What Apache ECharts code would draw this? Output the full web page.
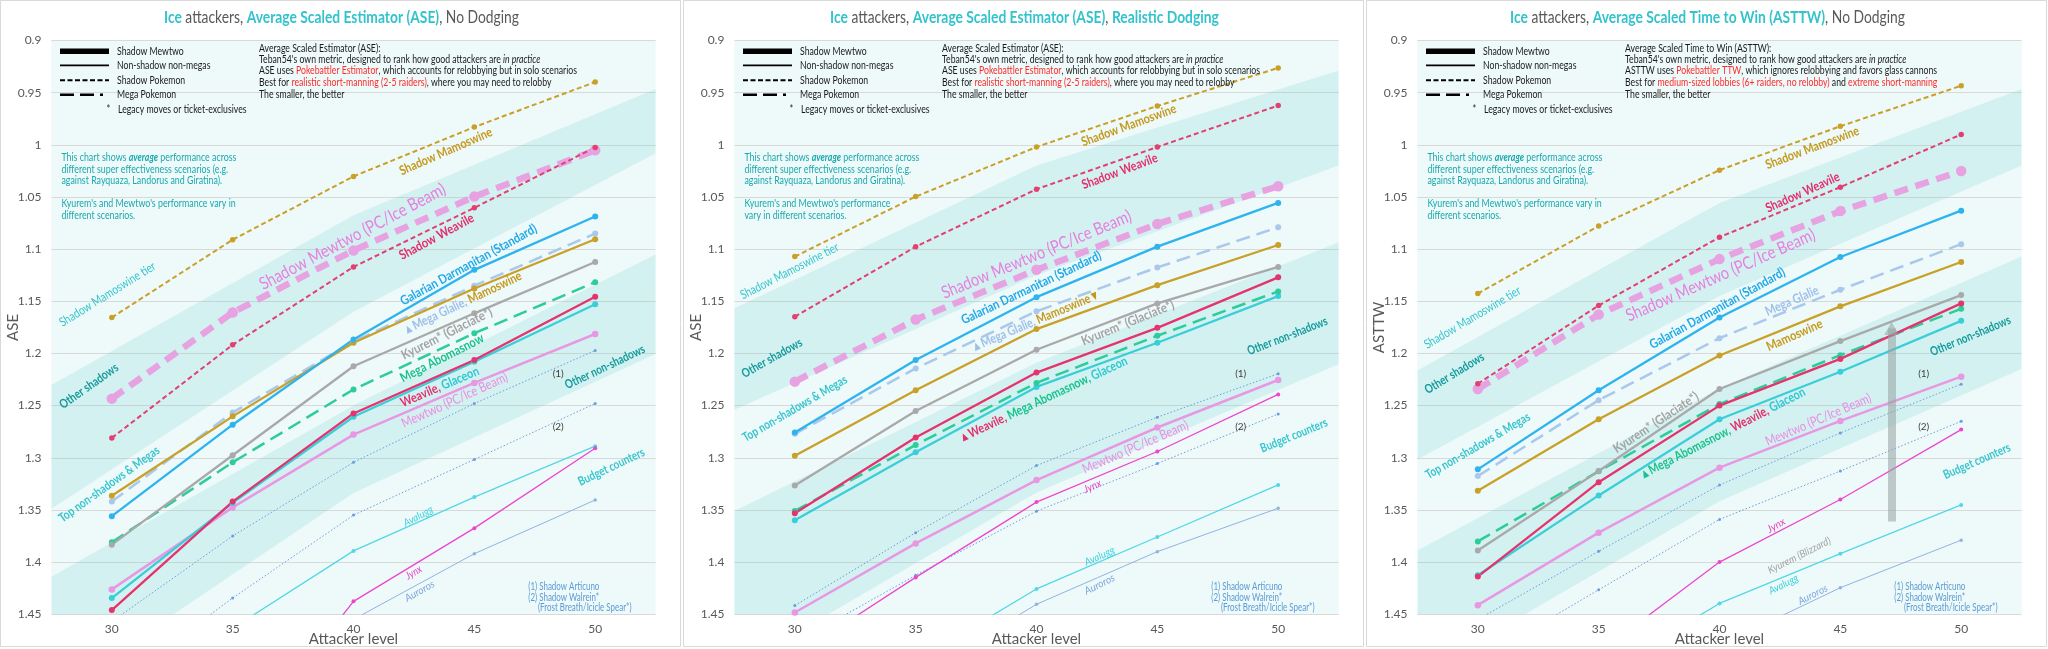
<!DOCTYPE html>
<html>
<head>
<meta charset="utf-8">
<script src="https://cdn.jsdelivr.net/npm/echarts@6/dist/echarts.min.js"></script>
<style>
    html, body { margin: 0; padding: 0; background: #fff; }
    #main { width: 2048px; height: 649px; }
</style>
</head>
<body>
<div id="main"></div>
<script>
// attacker levels on the x axis
const levels = [30, 35, 40, 45, 50]

// one row per chart: [ASE no dodging, ASE realistic dodging, ASTTW no dodging]
const shadowMamoswine = [
    [1.1655, 1.0909, 1.0302, 0.9829, 0.9397],
    [1.1071, 1.0496, 1.002, 0.9627, 0.9262],
    [1.1425, 1.0778, 1.0242, 0.9821, 0.9433]
]
const shadowWeavile = [
    [1.281, 1.1917, 1.117, 1.0603, 1.0024],
    [1.1647, 1.0976, 1.0425, 1.002, 0.9623],
    [1.229, 1.154, 1.0885, 1.0405, 0.99]
]
const shadowMewtwo = [
    [1.2433, 1.1607, 1.1012, 1.0496, 1.0052],
    [1.227, 1.1675, 1.1198, 1.0758, 1.0397],
    [1.2341, 1.1627, 1.1095, 1.0635, 1.025]
]
const galarianDarmanitan = [
    [1.356, 1.2683, 1.1865, 1.1198, 1.0687],
    [1.2758, 1.2063, 1.146, 1.0976, 1.0556],
    [1.3111, 1.2353, 1.1655, 1.1075, 1.0631]
]
const megaGlalie = [
    [1.342, 1.2567, 1.1885, 1.135, 1.085],
    [1.277, 1.2143, 1.1595, 1.1175, 1.079],
    [1.3175, 1.2448, 1.1853, 1.1389, 1.0952]
]
const mamoswine = [
    [1.3365, 1.2603, 1.1897, 1.1377, 1.0905],
    [1.298, 1.2353, 1.1766, 1.1345, 1.096],
    [1.3317, 1.2631, 1.202, 1.1548, 1.1123]
]
const kyurem = [
    [1.3833, 1.2976, 1.2123, 1.1615, 1.1123],
    [1.3266, 1.2552, 1.1964, 1.152, 1.117],
    [1.3889, 1.3127, 1.2341, 1.1881, 1.144]
]
const megaAbomasnow = [
    [1.381, 1.3044, 1.2345, 1.1806, 1.1317],
    [1.351, 1.2877, 1.2282, 1.183, 1.1405],
    [1.3802, 1.313, 1.2485, 1.2016, 1.1571]
]
const weavile = [
    [1.446, 1.342, 1.2575, 1.2063, 1.1456],
    [1.3532, 1.2806, 1.2183, 1.1754, 1.127],
    [1.4139, 1.3234, 1.25, 1.2052, 1.152]
]
const glaceon = [
    [1.4345, 1.3433, 1.2607, 1.2079, 1.1528],
    [1.36, 1.2948, 1.2321, 1.1897, 1.145],
    [1.4127, 1.3361, 1.2631, 1.2175, 1.1687]
]
const mewtwo = [
    [1.4262, 1.3476, 1.2778, 1.2282, 1.1813],
    [1.4484, 1.3821, 1.3214, 1.271, 1.2254],
    [1.4413, 1.3718, 1.3095, 1.2647, 1.2222]
]
const shadowArticuno = [
    [1.457, 1.375, 1.3044, 1.248, 1.1972],
    [1.4417, 1.3718, 1.3075, 1.2611, 1.2194],
    [1.455, 1.3897, 1.3262, 1.2762, 1.2294]
]
const shadowWalrein = [
    [1.52, 1.4345, 1.355, 1.3016, 1.248],
    [1.4776, 1.4127, 1.3512, 1.3056, 1.258],
    [1.4946, 1.4266, 1.3591, 1.3127, 1.265]
]
const jynx = [
    [null, 1.585, 1.4377, 1.3675, 1.2909],
    [1.49, 1.4147, 1.3425, 1.294, 1.2393],
    [null, 1.487, 1.4, 1.34, 1.273]
]
const avalugg = [
    [null, 1.4635, 1.3893, 1.3377, 1.2889],
    [null, 1.495, 1.4258, 1.376, 1.326],
    [null, 1.509, 1.4397, 1.392, 1.3452]
]
const auroros = [
    [null, null, 1.455, 1.392, 1.3405],
    [null, 1.51, 1.4405, 1.39, 1.3484],
    [null, null, 1.48, 1.4246, 1.379]
]

// tier band edges (left edge, middle, right edge of the plot)
const bandX = [27.5, 40, 52.5]
const tiersAseNoDodge = [[1.2302, 1.0675, 0.9464], [1.349, 1.16, 1.008], [1.414, 1.25, 1.105], [1.529, 1.3337, 1.2004]]
const tiersAseDodge = [[1.1567, 1.0198, 0.9286], [1.254, 1.125, 1.0198], [1.351, 1.209, 1.0933], [1.5027, 1.3333, 1.2103]]
const tiersAsttw = [[1.2163, 1.0556, 0.9464], [1.3016, 1.145, 1.0198], [1.3889, 1.2335, 1.1071], [1.51, 1.3417, 1.215]]

// gray arrow in the ASTTW chart: level, from, to
const asttwArrow = [47.12, 1.361, 1.176]

const F = 'Lato, sans-serif'
const origins = [0, 683, 1366]
const LIGHT = '#eef9f9'
const DARK = 'rgba(40,190,195,0.13)'

const lineStyles = {
    shadowMewtwo: { color: '#e6a2e1', width: 6.5, dash: [14, 8], size: 10.5 },
    shadowArticuno: { color: '#6b9edc', width: 1, dash: [1.5, 2], size: 3 },
    shadowWalrein: { color: '#6b9edc', width: 1, dash: [1.5, 2], size: 3 },
    auroros: { color: '#8fb3e3', width: 1, dash: 'solid', size: 3.5 },
    avalugg: { color: '#52d8e5', width: 1.3, dash: 'solid', size: 4 },
    jynx: { color: '#ee45cd', width: 1.3, dash: 'solid', size: 4 },
    mewtwo: { color: '#e898e3', width: 2.5, dash: 'solid', size: 6.5 },
    glaceon: { color: '#3acfd8', width: 2.3, dash: 'solid', size: 6 },
    megaAbomasnow: { color: '#2ccd9b', width: 2.5, dash: [14, 7], size: 6 },
    kyurem: { color: '#a9a9a9', width: 2.3, dash: 'solid', size: 6 },
    megaGlalie: { color: '#aac7ec', width: 2.5, dash: [14, 7], size: 6 },
    mamoswine: { color: '#c9a028', width: 2.3, dash: 'solid', size: 6 },
    galarianDarmanitan: { color: '#2db3ee', width: 2.3, dash: 'solid', size: 6 },
    weavile: { color: '#e5336d', width: 2.3, dash: 'solid', size: 6 },
    shadowWeavile: { color: '#e23f73', width: 2, dash: [5, 3], size: 5.5 },
    shadowMamoswine: { color: '#c9a028', width: 2, dash: [5, 3], size: 5.5 }
}
const seriesList = [
    ['shadowMewtwo', shadowMewtwo], ['shadowArticuno', shadowArticuno], ['shadowWalrein', shadowWalrein],
    ['auroros', auroros], ['avalugg', avalugg], ['jynx', jynx], ['mewtwo', mewtwo], ['glaceon', glaceon],
    ['megaAbomasnow', megaAbomasnow], ['kyurem', kyurem], ['megaGlalie', megaGlalie], ['mamoswine', mamoswine],
    ['galarianDarmanitan', galarianDarmanitan], ['weavile', weavile], ['shadowWeavile', shadowWeavile],
    ['shadowMamoswine', shadowMamoswine]
]

// annotations: text, level, value, angle, length in px on the original
const labelsP1 = [
    ['{gold|Shadow Mamoswine}', 43.82, 1.0063, 23.7, 100],
    ['{smew|Shadow Mewtwo (PC/Ice Beam)}', 39.96, 1.088, 27.9, 208],
    ['{crim|Shadow Weavile}', 43.44, 1.088, 28.3, 83],
    ['{blue|Galarian Darmanitan (Standard)}', 44.76, 1.115, 28.9, 154],
    ['{glal|▲Mega Glalie, }{gold|Mamoswine}', 44.5, 1.1516, 25.4, 130],
    ['{gray|Kyurem* (Glaciate*)}', 43.86, 1.181, 26.6, 100],
    ['{abom|Mega Abomasnow}', 43.66, 1.2044, 26.8, 92],
    ['{crim|Weavile, }{cyan|Glaceon}', 43.57, 1.232, 23.1, 84],
    ['{mew|Mewtwo (PC/Ice Beam)}', 44.18, 1.2448, 24.5, 115],
    ['{tiny|(1)}', 48.47, 1.219, 0, 0],
    ['{tiny|(2)}', 48.47, 1.2706, 0, 0],
    ['{teal|Other non-shadows}', 50.4, 1.213, 25.4, 87],
    ['{tierB|Budget counters}', 50.67, 1.3087, 25.4, 72],
    ['{aval|Avalugg}', 42.68, 1.356, 28.4, 32],
    ['{jynx|Jynx}', 42.49, 1.41, 30, 17],
    ['{aur|Auroros}', 42.74, 1.4278, 29.6, 32.5],
    ['{tier|Shadow Mamoswine tier}', 29.82, 1.1433, 31.9, 111],
    ['{teal|Other shadows}', 29.05, 1.2313, 35.3, 69],
    ['{tierB|Top non-shadows & Megas}', 29.89, 1.3254, 35.7, 121]
]
const labelsP2 = [
    ['{gold|Shadow Mamoswine}', 43.82, 0.9813, 20.2, 100],
    ['{crim|Shadow Weavile}', 43.44, 1.0254, 20.6, 80],
    ['{smew|Shadow Mewtwo (PC/Ice Beam)}', 40.0, 1.1052, 22.6, 204],
    ['{blue|Galarian Darmanitan (Standard)}', 39.78, 1.137, 25.5, 153.5],
    ['{glal|▲Mega Glalie, }{gold|Mamoswine▼}', 39.96, 1.1687, 22.9, 138.5],
    ['{gray|Kyurem* (Glaciate*)}', 43.78, 1.1706, 22.2, 99],
    ['{crim|▲Weavile, }{abom|Mega Abomasnow, }{cyan|Glaceon}', 40.27, 1.244, 25.2, 184.6],
    ['{mew|Mewtwo (PC/Ice Beam)}', 44.09, 1.2897, 23.5, 114],
    ['{jynx|Jynx}', 42.31, 1.3274, 25, 18.5],
    ['{tiny|(1)}', 48.45, 1.219, 0, 0],
    ['{tiny|(2)}', 48.45, 1.2706, 0, 0],
    ['{teal|Other non-shadows}', 50.38, 1.1833, 21.4, 85],
    ['{tierB|Budget counters}', 50.65, 1.2786, 22.1, 71.5],
    ['{aval|Avalugg}', 42.61, 1.3944, 25, 32],
    ['{aur|Auroros}', 42.61, 1.4214, 27, 32.6],
    ['{tier|Shadow Mamoswine tier}', 29.78, 1.121, 27.2, 108.7],
    ['{teal|Other shadows}', 29.05, 1.2044, 29.4, 67.5],
    ['{tierB|Top non-shadows & Megas}', 30.0, 1.2528, 30.3, 119]
]
const labelsP3 = [
    ['{gold|Shadow Mamoswine}', 43.84, 1.0028, 20.8, 99],
    ['{crim|Shadow Weavile}', 43.44, 1.0456, 24.3, 80],
    ['{smew|Shadow Mewtwo (PC/Ice Beam)}', 40.04, 1.125, 23.8, 205],
    ['{blue|Galarian Darmanitan (Standard)}', 39.91, 1.1567, 29.1, 153],
    ['{glal|Mega Glalie}', 43.0, 1.1496, 23.5, 57],
    ['{gold|Mamoswine}', 43.1, 1.1825, 24, 60],
    ['{gray|Kyurem* (Glaciate*)}', 37.37, 1.2663, 33.6, 99.4],
    ['{abom|▲Mega Abomasnow, }{crim|Weavile, }{cyan|Glaceon}', 40.11, 1.2766, 27.3, 185],
    ['{mew|Mewtwo (PC/Ice Beam)}', 44.09, 1.2635, 23.2, 113.6],
    ['{tiny|(1)}', 48.45, 1.219, 0, 0],
    ['{tiny|(2)}', 48.45, 1.2706, 0, 0],
    ['{teal|Other non-shadows}', 50.38, 1.1833, 22.7, 86],
    ['{tierB|Budget counters}', 50.65, 1.3032, 23.5, 72],
    ['{jynx|Jynx}', 42.34, 1.365, 30, 19],
    ['{kyb|Kyurem (Blizzard)}', 43.3, 1.3937, 26.6, 69],
    ['{aval|Avalugg}', 42.65, 1.4214, 27, 31.8],
    ['{aur|Auroros}', 43.86, 1.4313, 27, 31.8],
    ['{tier|Shadow Mamoswine tier}', 29.78, 1.1655, 30.6, 110],
    ['{teal|Other shadows}', 29.03, 1.219, 31.5, 67.4],
    ['{tierB|Top non-shadows & Megas}', 30.0, 1.2885, 30.3, 119]
]

const titles = [
    '{cy|Ice}{gr| attackers, }{cy|Average Scaled Estimator (ASE)}{gr|, No Dodging}',
    '{cy|Ice}{gr| attackers, }{cy|Average Scaled Estimator (ASE)}{gr|, }{cy|Realistic Dodging}',
    '{cy|Ice}{gr| attackers, }{cy|Average Scaled Time to Win (ASTTW)}{gr|, No Dodging}'
]
const notesAse = [
    '{k|Average Scaled Estimator (ASE):}',
    "{k|Teban54's own metric, designed to rank how good attackers are }{ki|in practice}",
    '{k|ASE uses }{r|Pokebattler Estimator}{k|, which accounts for relobbying but in solo scenarios}',
    '{k|Best for }{r|realistic short-manning (2-5 raiders)}{k|, where you may need to relobby}',
    '{k|The smaller, the better}'
]
const notesAsttw = [
    '{k|Average Scaled Time to Win (ASTTW):}',
    "{k|Teban54's own metric, designed to rank how good attackers are }{ki|in practice}",
    '{k|ASTTW uses }{r|Pokebattler TTW}{k|, which ignores relobbying and favors glass cannons}',
    '{k|Best for }{r|medium-sized lobbies (6+ raiders, no relobby)}{k| and }{r|extreme short-manning}',
    '{k|The smaller, the better}'
]
const sideNotes = [
    '{c|This chart shows }{cb|average}{c| performance across}',
    '{c|different super effectiveness scenarios (e.g.}',
    '{c|against Rayquaza, Landorus and Giratina).}'
]
const sideNotes2 = [
    ["{c|Kyurem's and Mewtwo's performance vary in}", '{c|different scenarios.}'],
    ["{c|Kyurem's and Mewtwo's performance}", '{c|vary in different scenarios.}'],
    ["{c|Kyurem's and Mewtwo's performance vary in}", '{c|different scenarios.}']
]
const footNotes = ['{f|(1) Shadow Articuno}', '{f|(2) Shadow Walrein*}', '{f|(Frost Breath/Icicle Spear*)}']
const legendNames = ['Shadow Mewtwo', 'Non-shadow non-megas', 'Shadow Pokemon', 'Mega Pokemon']

function fnt(size, weight, style) {
    return [style || 'normal', weight || 'normal', size + 'px', F].join(' ')
}
const NOTE_RICH = {
    k: { fill: '#1a1a1a', font: fnt(11) },
    ki: { fill: '#1a1a1a', font: fnt(11, '', 'italic') },
    r: { fill: '#ff2a2a', font: fnt(11) },
    c: { fill: '#1aa9ae', font: fnt(11.5) },
    cb: { fill: '#1aa9ae', font: fnt(11.5, 'bold', 'italic') },
    f: { fill: '#5b9bd5', font: fnt(10.5) }
}
const TITLE_RICH = {
    cy: { fill: '#33c3cc', font: fnt(17, 'bold') },
    gr: { fill: '#595959', font: fnt(17) }
}
// label looks: colour, size, weight, style
const LS = {
    gold: ['#c49a1e', 13, 'bold'],
    crim: ['#e42f6c', 13, 'bold'],
    smew: ['#e67fdf', 17.5],
    blue: ['#1ea9ea', 13, 'bold'],
    glal: ['#9ebfea', 13, 'bold'],
    gray: ['#a3a3a3', 13, 'bold'],
    abom: ['#18c28c', 13, 'bold'],
    cyan: ['#2cc8d2', 13, 'bold'],
    mew: ['#ea8de3', 13.5],
    teal: ['#149a9c', 12.5, 'bold'],
    tier: ['#36c5ce', 12.5],
    tierB: ['#36c5ce', 12.5, 'bold'],
    tiny: ['#404040', 10],
    jynx: ['#e93fc6', 10.5, 'normal', 'italic'],
    aval: ['#3dd2de', 10.5, 'normal', 'italic'],
    aur: ['#7ea6dc', 10.5, 'normal', 'italic'],
    kyb: ['#a3a3a3', 10.5, 'normal', 'italic']
}
const LABEL_RICH = {}
Object.keys(LS).forEach(function (k) {
    LABEL_RICH[k] = { fill: LS[k][0], font: fnt(LS[k][1], LS[k][2], LS[k][3]) }
})

// width measuring, so the text can be squeezed to the size seen on the original
const ctx = document.createElement('canvas').getContext('2d')
function tokens(str) {
    const out = []
    str.replace(/\{(\w+)\|([^}]*)\}/g, function (m, k, t) { out.push([k, t]); return m })
    return out
}
function textWidth(str, rich) {
    return tokens(str).reduce(function (w, tk) {
        ctx.font = rich[tk[0]].font
        return w + ctx.measureText(tk[1]).width
    }, 0)
}

const sxTitle = 355 / textWidth(titles[0], TITLE_RICH)
const sxNotes = 318 / textWidth(notesAse[2], NOTE_RICH)
const sxLegend = 128.5 / textWidth('{k|Legacy moves or ticket-exclusives}', NOTE_RICH)
const sxSide = 175 / textWidth(sideNotes[0], NOTE_RICH)
const sxFoot = 93.6 / textWidth(footNotes[2], NOTE_RICH)

function txt(x, y, text, rich, sx, align) {
    return {
        type: 'text', x: x, y: y, z: 100, silent: true, scaleX: sx,
        style: { text: text, rich: rich, font: fnt(11), fill: '#1a1a1a',
            align: align || 'left', textAlign: align || 'left', verticalAlign: 'middle', textVerticalAlign: 'middle' }
    }
}

function bandSeries(p, edges) {
    const pairs = [[0, 1], [2, 3]]
    return {
        type: 'custom', xAxisIndex: p, yAxisIndex: p, z: 1, silent: true, clip: true,
        data: pairs.map(pr => [bandX[0], edges[pr[0]][0]]),
        renderItem: function (params, api) {
            const pr = pairs[params.dataIndex]
            const top = bandX.map((x, i) => api.coord([x, edges[pr[0]][i]]))
            const bot = bandX.map((x, i) => api.coord([x, edges[pr[1]][i]])).reverse()
            return { type: 'polygon', shape: { points: top.concat(bot) }, style: { fill: DARK } }
        }
    }
}

function lineSeries(p, key, vals) {
    const st = lineStyles[key]
    const s = {
        type: 'line', name: key, xAxisIndex: p, yAxisIndex: p, z: 2,
        data: levels.map((l, i) => [l, vals[i]]),
        symbol: 'circle', symbolSize: st.size, showSymbol: true, clip: true, silent: true,
        connectNulls: false,
        lineStyle: { color: st.color, width: st.width, type: st.dash },
        itemStyle: { color: st.color, borderWidth: 0 },
        emphasis: { disabled: true }
    }
    if (p === 2 && key === 'kyurem') {
        s.markLine = {
            silent: true, symbol: ['none', 'triangle'], symbolSize: [15, 13], animation: false,
            label: { show: false },
            itemStyle: { color: 'rgba(150,160,160,0.55)' },
            lineStyle: { color: 'rgba(150,160,160,0.55)', width: 8, type: 'solid' },
            data: [[{ coord: [asttwArrow[0], asttwArrow[1]] }, { coord: [asttwArrow[0], asttwArrow[2]] }]]
        }
    }
    return s
}

const tierSets = [tiersAseNoDodge, tiersAseDodge, tiersAsttw]
const labelSets = [labelsP1, labelsP2, labelsP3]

let series = []
let elements = []
;[0, 1, 2].forEach(function (p) {
    series.push(bandSeries(p, tierSets[p]))
    seriesList.forEach(function (s) {
        series.push(lineSeries(p, s[0], s[1][p]))
    })

    const ox = origins[p]
    elements.push({
        type: 'rect', z: -1, silent: true,
        shape: { x: ox + 0.5, y: 0.5, width: 680, height: 646 },
        style: { fill: 'none', stroke: '#d9d9d9', lineWidth: 1 }
    })
    elements.push(txt(ox + 341.5, 18, titles[p], TITLE_RICH, sxTitle, 'center'))
    // legend samples
    const ly = [51.3, 65.4, 80.3, 94.8]
    const lw = [5.5, 1.8, 2, 2.5]
    const ld = [null, null, [5, 2.5], [14, 6, 14, 6, 3, 30]]
    ly.forEach(function (y, i) {
        elements.push({
            type: 'line', z: 100, silent: true,
            shape: { x1: ox + 60, y1: y, x2: ox + 109, y2: y },
            style: { stroke: '#000', lineWidth: lw[i], lineDash: ld[i] }
        })
        elements.push(txt(ox + 117, y, '{k|' + legendNames[i] + '}', NOTE_RICH, sxLegend))
    })
    elements.push(txt(ox + 106.5, 109.5, '{k|*}', NOTE_RICH, sxLegend))
    elements.push(txt(ox + 118, 109.5, '{k|Legacy moves or ticket-exclusives}', NOTE_RICH, sxLegend))
    // metric notes
    const nl = p === 2 ? notesAsttw : notesAse
    const ny = [48, 59.6, 70.8, 82.4, 94]
    nl.forEach(function (t, i) {
        elements.push(txt(ox + 259, ny[i], t, NOTE_RICH, sxNotes))
    })
    // side notes
    const sy = [157.7, 169.3, 180.5]
    sideNotes.forEach(function (t, i) {
        elements.push(txt(ox + 61.4, sy[i], t, NOTE_RICH, sxSide))
    })
    sideNotes2[p].forEach(function (t, i) {
        elements.push(txt(ox + 61.4, [203.2, 214.8][i], t, NOTE_RICH, sxSide))
    })
    // footnotes
    const fx = [528.3, 528.3, 538]
    const fy = [587, 597.7, 608]
    footNotes.forEach(function (t, i) {
        elements.push(txt(ox + fx[i], fy[i], t, NOTE_RICH, sxFoot))
    })
})

const chart = echarts.init(document.getElementById('main'))
const option = {
    animation: false,
    backgroundColor: '#fff',
    textStyle: { fontFamily: F },
    grid: [0, 1, 2].map(p => ({
        left: origins[p] + 51.4, top: 40.6, width: 604.2, height: 573.6,
        show: true, backgroundColor: LIGHT, borderWidth: 0, containLabel: false, outerBoundsMode: 'none'
    })),
    xAxis: [0, 1, 2].map(p => ({
        gridIndex: p, type: 'value', min: 27.5, max: 52.5, splitNumber: 5,
        axisLine: { show: false, onZero: false }, axisTick: { show: false }, splitLine: { show: false },
        axisLabel: {
            color: '#595959', fontSize: 12, fontFamily: F, margin: 9,
            customValues: levels,
            formatter: v => (v % 5 === 0 ? String(v) : '')
        },
        name: 'Attacker level', nameLocation: 'middle', nameGap: 17, nameMoveOverlap: false,
        nameTextStyle: { color: '#595959', fontSize: 15, fontFamily: F }
    })),
    yAxis: [0, 1, 2].map(p => ({
        gridIndex: p, type: 'value', inverse: true, min: 0.9, max: 1.45, interval: 0.05,
        axisLine: { show: false }, axisTick: { show: false },
        splitLine: { show: true, lineStyle: { color: '#d9d9d9', width: 1 } },
        axisLabel: {
            color: '#595959', fontSize: 12, fontFamily: F, margin: 10,
            formatter: v => String(Math.round(v * 100) / 100)
        },
        name: p === 2 ? 'ASTTW' : 'ASE', nameLocation: 'middle', nameGap: 31, nameMoveOverlap: false,
        nameTextStyle: { color: '#595959', fontSize: 15, fontFamily: F }
    })),
    series: series
}
option && chart.setOption(option)

// line labels sit at data positions, placed through the chart's own axes
labelSets.forEach(function (list, p) {
    list.forEach(function (l) {
        const pt = chart.convertToPixel({ gridIndex: p }, [l[1], l[2]])
        let sx = l[4] ? l[4] / textWidth(l[0], LABEL_RICH) : 1
        sx = Math.min(1.3, Math.max(0.6, sx))
        elements.push({
            type: 'text', x: pt[0], y: pt[1], rotation: l[3] * Math.PI / 180, scaleX: sx, z: 50, silent: true,
            style: { text: l[0], rich: LABEL_RICH, font: fnt(12), align: 'center', textAlign: 'center',
                verticalAlign: 'middle', textVerticalAlign: 'middle' }
        })
    })
})
chart.setOption({ graphic: { elements: elements } })
</script>
</body>
</html>
